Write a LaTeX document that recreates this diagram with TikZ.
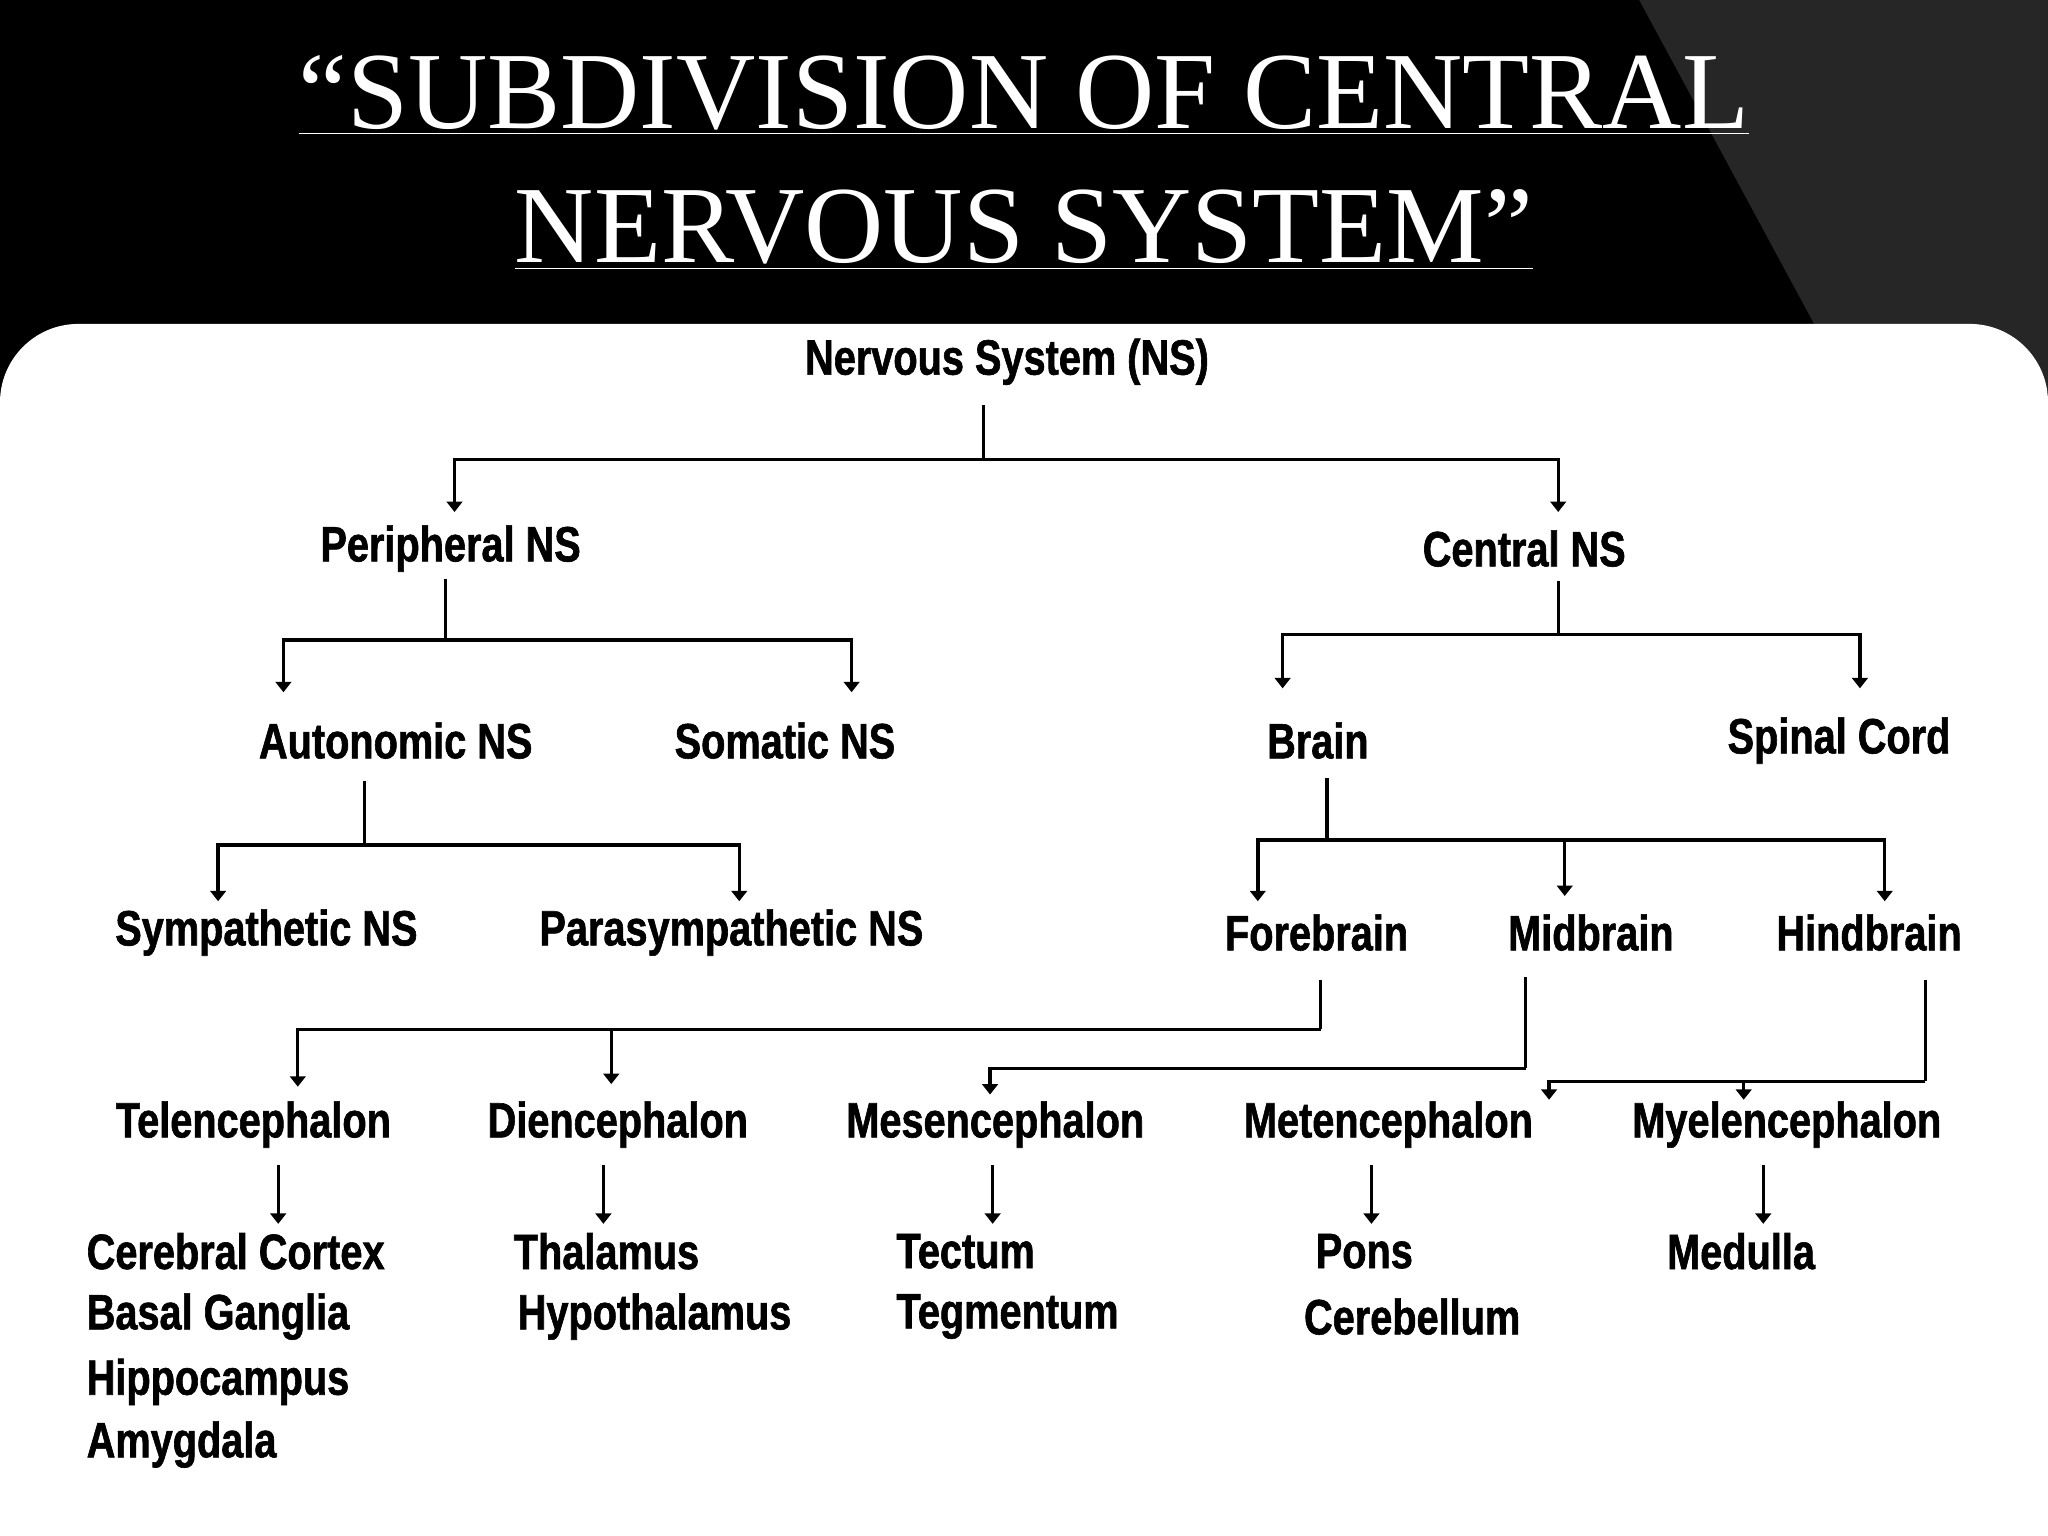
\documentclass[tikz,border=0pt]{standalone}
\usepackage{fontspec}
\setmainfont{Liberation Serif}
\newfontfamily\diag[FakeStretch=0.80,FakeBold=1.2]{Liberation Sans Bold}
\usetikzlibrary{arrows.meta}
\begin{document}
\begin{tikzpicture}[x=0.5pt,y=-0.5pt,
  t/.style={font=\diag\fontsize{19}{21}\selectfont, inner sep=0pt},
  tl/.style={t, anchor=west},
  ln/.style={line width=1.3pt},
  ar/.style={ln,-{Triangle[width=6pt,length=4pt]}}]
\useasboundingbox (0,0) rectangle (1568,1176);
\fill[black] (0,0) rectangle (1568,1176);
\fill[black!85!white] (1255,0) -- (1568,0) -- (1568,300) -- (1390,250) -- cycle;
\fill[white, rounded corners=30pt] (0,248) rectangle (1568,1240);
\fill[white] (0,1100) rectangle (1568,1176);
\node[text=white,font=\fontsize{42}{46}\selectfont,inner sep=0pt] (t1) at (784,73) {\underline{“SUBDIVISION OF CENTRAL}};
\node[text=white,font=\fontsize{42}{46}\selectfont,inner sep=0pt] (t2) at (784,176) {\underline{NERVOUS SYSTEM”}};
% nodes
\node[t] (ns) at (771,277) {Nervous System (NS)};
\node[t] (pns) at (345,420) {Peripheral NS};
\node[t] (cns) at (1167,420) {Central NS};
\node[t] (ans) at (303,567) {Autonomic NS};
\node[t] (sns) at (601,567) {Somatic NS};
\node[t] (br) at (1009,567) {Brain};
\node[t] (sc) at (1408,567) {Spinal Cord};
\node[t] (sy) at (204,714) {Sympathetic NS};
\node[t] (pa) at (560,714) {Parasympathetic NS};
\node[t] (fb) at (1008,714) {Forebrain};
\node[t] (mb) at (1218,714) {Midbrain};
\node[t] (hb) at (1431,714) {Hindbrain};
\node[t] (te) at (194,861) {Telencephalon};
\node[t] (di) at (473,861) {Diencephalon};
\node[t] (me) at (762,861) {Mesencephalon};
\node[t] (mt) at (1063,861) {Metencephalon};
\node[t] (my) at (1368,861) {Myelencephalon};
\node[tl] (l1) at (66,958) {Cerebral Cortex};
\node[tl] (l2) at (66,1008) {Basal Ganglia};
\node[tl] (l3) at (66,1058) {Hippocampus};
\node[tl] (l4) at (66,1106) {Amygdala};
\node[tl] (d1) at (393,958) {Thalamus};
\node[tl] (d2) at (396,1008) {Hypothalamus};
\node[tl] (m1) at (686,958) {Tectum};
\node[tl] (m2) at (686,1008) {Tegmentum};
\node[tl] (p1) at (1007,958) {Pons};
\node[tl] (p2) at (998,1008) {Cerebellum};
\node[tl] (md) at (1276,958) {Medulla};
% connectors
\coordinate (a) at (753,352);
\draw[ln] (753,310) -- (a);
\draw[ar] (a) -| (348,392); \draw[ar] (a) -| (1193,392);
\draw[ln] (341,443) -- (341,490);
\draw[ar] (341,490) -| (217,530); \draw[ar] (341,490) -| (652,530);
\draw[ln] (1193,445) -- (1193,486);
\draw[ar] (1193,486) -| (982,527); \draw[ar] (1193,486) -| (1424,527);
\draw[ln] (279,598) -- (279,647);
\draw[ar] (279,647) -| (167,690); \draw[ar] (279,647) -| (566,690);
\draw[ln] (1016,596) -- (1016,643);
\draw[ar] (1016,643) -| (963,690); \draw[ar] (1016,643) -| (1443,690);
\draw[ar] (1198,643) -- (1198,686);
\draw[ln] (1011,750) -- (1011,788);
\draw[ar] (1011,788) -| (228,832); \draw[ar] (468,788) -- (468,830);
\draw[ln] (1168,748) -- (1168,818);
\draw[ar] (1168,818) -| (758,838);
\draw[ln] (1474,750) -- (1474,828);
\draw[ar] (1474,828) -| (1186,842); \draw[ar] (1335,828) -- (1335,842);
\draw[ar] (213,892) -- (213,937);
\draw[ar] (462,892) -- (462,937);
\draw[ar] (760,892) -- (760,937);
\draw[ar] (1050,892) -- (1050,937);
\draw[ar] (1350,892) -- (1350,937);
\end{tikzpicture}
\end{document}
